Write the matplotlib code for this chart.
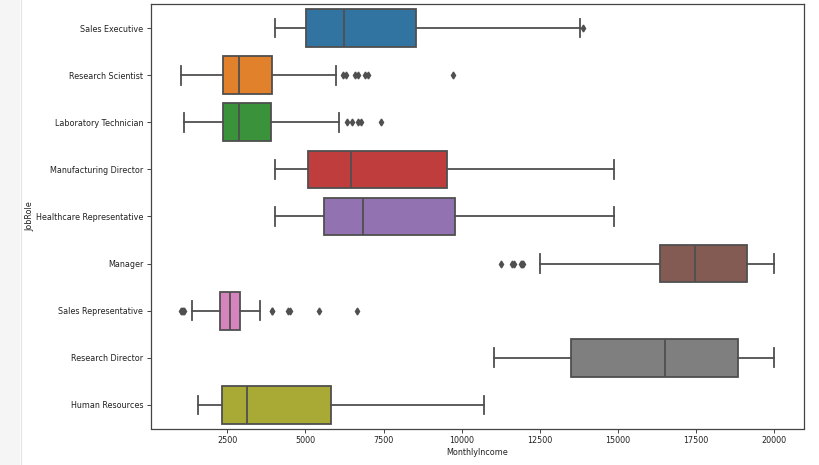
import matplotlib
matplotlib.use("Agg")
import matplotlib.pyplot as plt
from matplotlib.patches import Rectangle
from matplotlib.lines import Line2D

roles = ["Sales Executive", "Research Scientist", "Laboratory Technician",
         "Manufacturing Director", "Healthcare Representative", "Manager",
         "Sales Representative", "Research Director", "Human Resources"]

whislo = [4025, 1009, 1102, 4025, 4025, 12510, 1370, 11040, 1555]
q1     = [5016, 2370, 2360, 5090, 5580, 16340, 2265, 13495, 2330]
med    = [6232, 2883, 2873, 6456, 6830, 17470, 2585, 16510, 3118]
q3     = [8536, 3919, 3887, 9528, 9773, 19135, 2895, 18827, 5816]
whishi = [13783, 5976, 6082, 14870, 14870, 19999, 3544, 19999, 10711]
fliers = [
    [13880],
    [6210, 6296, 6584, 6680, 6904, 7000, 9729],
    [6319, 6479, 6690, 6776, 7406],
    [],
    [],
    [11255, 11617, 11660, 11885, 11930, 11968],
    [1009, 1052, 1081, 1118, 3919, 3940, 4450, 4514, 5423, 6638],
    [],
    [],
]

colors = ["#3274a1", "#e1812c", "#3a923a", "#c03d3e", "#9372b2",
          "#845b53", "#d684bd", "#7f7f7f", "#a9aa35"]
line_col = "#4f4f4f"

fig = plt.figure(figsize=(8.2, 4.65), dpi=100)
fig.patch.set_facecolor("white")
fig.patches.append(Rectangle((0, 0), 20 / 820, 1, transform=fig.transFigure,
                             facecolor="#f5f5f5", edgecolor="none", zorder=0))
fig.lines.append(Line2D([20.5 / 820, 20.5 / 820], [0, 1], transform=fig.transFigure,
                        color="#e3e3e3", lw=0.8))

ax = fig.add_axes([151 / 820, 1 - 428.5 / 465, (804 - 151) / 820, (428.5 - 4.5) / 465])

stats = []
for i, r in enumerate(roles):
    stats.append(dict(label=r, whislo=whislo[i], q1=q1[i], med=med[i], q3=q3[i],
                      whishi=whishi[i], fliers=fliers[i]))

positions = list(range(len(roles)))
bp = ax.bxp(stats, positions=positions, vert=False, widths=0.8, patch_artist=True,
            showfliers=True,
            boxprops=dict(edgecolor=line_col, linewidth=1.3),
            medianprops=dict(color=line_col, linewidth=1.3),
            whiskerprops=dict(color=line_col, linewidth=1.3),
            capprops=dict(color=line_col, linewidth=1.3),
            flierprops=dict(marker="d", markerfacecolor=line_col, markeredgecolor=line_col,
                            markersize=3.5, linestyle="none"))
for patch, c in zip(bp["boxes"], colors):
    patch.set_facecolor(c)

ax.set_ylim(8.5, -0.5)
ax.set_xlim(59, 20949)
ax.set_xticks([2500, 5000, 7500, 10000, 12500, 15000, 17500, 20000])
ax.set_xticklabels(["2500", "5000", "7500", "10000", "12500", "15000", "17500", "20000"])
ax.set_yticks(positions)
ax.set_yticklabels(roles)
ax.tick_params(labelsize=5.8, length=3, width=0.7, color="#444444", labelcolor="#222222", pad=2.5)
for s in ax.spines.values():
    s.set_color("#444444")
    s.set_linewidth(0.9)
ax.set_xlabel("MonthlyIncome", fontsize=5.8, labelpad=2, color="#222222")
ax.set_ylabel("JobRole", fontsize=5.8, labelpad=1, color="#222222")

fig.savefig("out.png", dpi=100)
